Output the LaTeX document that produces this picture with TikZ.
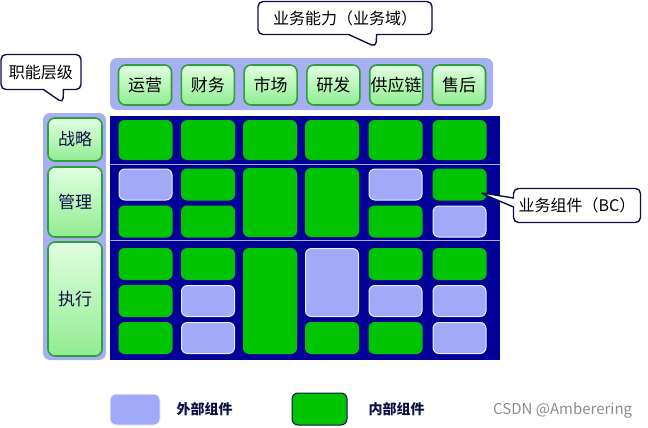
\documentclass[tikz,border=0pt]{standalone}
\usepackage{fontspec}
\setmainfont{Noto Sans CJK SC}
\usepackage{tikz}
\usetikzlibrary{shapes,shapes.callouts,positioning,calc,shadows}

\definecolor{gridblue}{RGB}{0,0,150}
\definecolor{ingreen}{RGB}{0,196,0}
\definecolor{extlav}{RGB}{160,170,248}
\definecolor{panellav}{RGB}{166,176,240}
\definecolor{btnedge}{RGB}{46,160,60}
\definecolor{btntop}{RGB}{225,255,225}
\definecolor{btnbot}{RGB}{145,236,145}
\definecolor{inkdark}{RGB}{16,16,72}

\begin{document}
\begin{tikzpicture}[x=1pt,y=-1pt,node distance=62.8pt,
	btn/.style={rectangle,rounded corners=7pt,draw=btnedge,line width=1.6pt,top color=btntop,bottom color=btnbot,
		drop shadow={shadow xshift=1pt,shadow yshift=-1.2pt,opacity=0.3},inner sep=0pt,font=\fontsize{17}{19}\selectfont},
	hdrbtn/.style={btn,minimum width=53pt,minimum height=40pt},
	lvlbtn/.style={btn,minimum width=54pt,text=inkdark},
	incomp/.style={rectangle,rounded corners=6pt,fill=ingreen,inner sep=0pt,minimum width=54pt,minimum height=32pt},
	excomp/.style={rectangle,rounded corners=6pt,fill=extlav,draw=white!80!extlav,line width=1pt,inner sep=0pt,minimum width=53pt,minimum height=31pt},
	callbox/.style={rectangle callout,draw=inkdark,line width=1.4pt,fill=white,rounded corners=5pt,inner sep=0pt,font=\fontsize{16}{18}\selectfont},
	legtext/.style={inner sep=0pt,text=inkdark,font=\fontsize{14}{16}\selectfont\bfseries}]
	\useasboundingbox (0,0) rectangle (648,428);
	\fill[panellav,rounded corners=7pt] (110,58) rectangle (493,110);
	\fill[panellav,rounded corners=7pt] (43,113) rectangle (106,360);
	\fill[gridblue] (110,116) rectangle (500,360);
	\draw[panellav,line width=1pt] (110,164) -- (500,164) (110,240) -- (500,240);

	\node[hdrbtn]	(ops)	at (145,85) {运营};
	\node[hdrbtn]	(fin)	[right of=ops] {财务};
	\node[hdrbtn]	(mkt)	[right of=fin] {市场};
	\node[hdrbtn]	(rnd)	[right of=mkt] {研发};
	\node[hdrbtn]	(sup)	[right of=rnd] {供应链};
	\node[hdrbtn]	(aft)	[right of=sup] {售后};

	\node[lvlbtn,minimum height=43pt]	(strat)	at (75,139.5) {战略};
	\node[lvlbtn,minimum height=70pt]	(manage)	at (75,202) {管理};
	\node[lvlbtn,minimum height=114pt]	(exec)	at (75,299) {执行};

	\node[incomp,minimum height=40pt]	(st1)	at (145.5,140) {};
	\node[incomp,minimum height=40pt]	(st2)	at (208,140) {};
	\node[incomp,minimum height=40pt]	(st3)	at (270,140) {};
	\node[incomp,minimum height=40pt]	(st4)	at (332,140) {};
	\node[incomp,minimum height=40pt]	(st5)	at (395.5,140) {};
	\node[incomp,minimum height=40pt]	(st6)	at (459.5,140) {};

	\node[excomp]	(mg1a)	at (145.5,184.5) {};
	\node[incomp]	(mg1b)	at (145.5,221.5) {};
	\node[incomp]	(mg2a)	at (208,184.5) {};
	\node[incomp]	(mg2b)	at (208,221.5) {};
	\node[incomp,minimum height=69pt]	(mg3)	at (270,202.5) {};
	\node[incomp,minimum height=69pt]	(mg4)	at (332,202.5) {};
	\node[excomp]	(mg5a)	at (395.5,184.5) {};
	\node[incomp]	(mg5b)	at (395.5,221.5) {};
	\node[incomp]	(mg6a)	at (459.5,184.5) {};
	\node[excomp]	(mg6b)	at (459.5,221.5) {};

	\node[incomp]	(ex1a)	at (145.5,264) {};
	\node[incomp]	(ex1b)	at (145.5,301) {};
	\node[incomp]	(ex1c)	at (145.5,338) {};
	\node[incomp]	(ex2a)	at (208,264) {};
	\node[excomp]	(ex2b)	at (208,301) {};
	\node[excomp]	(ex2c)	at (208,338) {};
	\node[incomp,minimum height=106pt]	(ex3)	at (270,301) {};
	\node[excomp,minimum height=68pt]	(ex4a)	at (332,282.5) {};
	\node[incomp]	(ex4b)	at (332,338) {};
	\node[incomp]	(ex5a)	at (395.5,264) {};
	\node[excomp]	(ex5b)	at (395.5,301) {};
	\node[incomp]	(ex5c)	at (395.5,338) {};
	\node[incomp]	(ex6a)	at (459.5,264) {};
	\node[excomp]	(ex6b)	at (459.5,301) {};
	\node[excomp]	(ex6c)	at (459.5,338) {};

	\node[callbox,minimum width=174pt,minimum height=33pt,callout absolute pointer={(376,47)},callout pointer width=28pt]
		(domain)	at (345,18) {业务能力（业务域）};
	\node[callbox,minimum width=80pt,minimum height=35pt,callout absolute pointer={(63,103)},callout pointer width=20pt]
		(level)	at (41,72) {职能层级};
	\node[callbox,minimum width=127pt,minimum height=34pt,callout absolute pointer={($(mg6a)+(20,8)$)},callout pointer width=9pt]
		(bc)	at (577,205.5) {业务组件（BC）};

	\node[excomp,minimum width=50pt,minimum height=31pt]	(lgext)	at (135,409.5) {};
	\node[legtext]	(lgexttxt)	[right=16pt of lgext] {外部组件};
	\node[incomp,draw=inkdark,line width=1pt,minimum width=55pt,minimum height=32pt]	(lgin)	at (319.5,409) {};
	\node[legtext]	(lgintxt)	[right=21pt of lgin] {内部组件};
	\node[anchor=west,inner sep=0pt,text=black!45,font=\fontsize{15}{17}\selectfont]	(mark)	at (493,410) {CSDN @Amberering};
\end{tikzpicture}
\end{document}
